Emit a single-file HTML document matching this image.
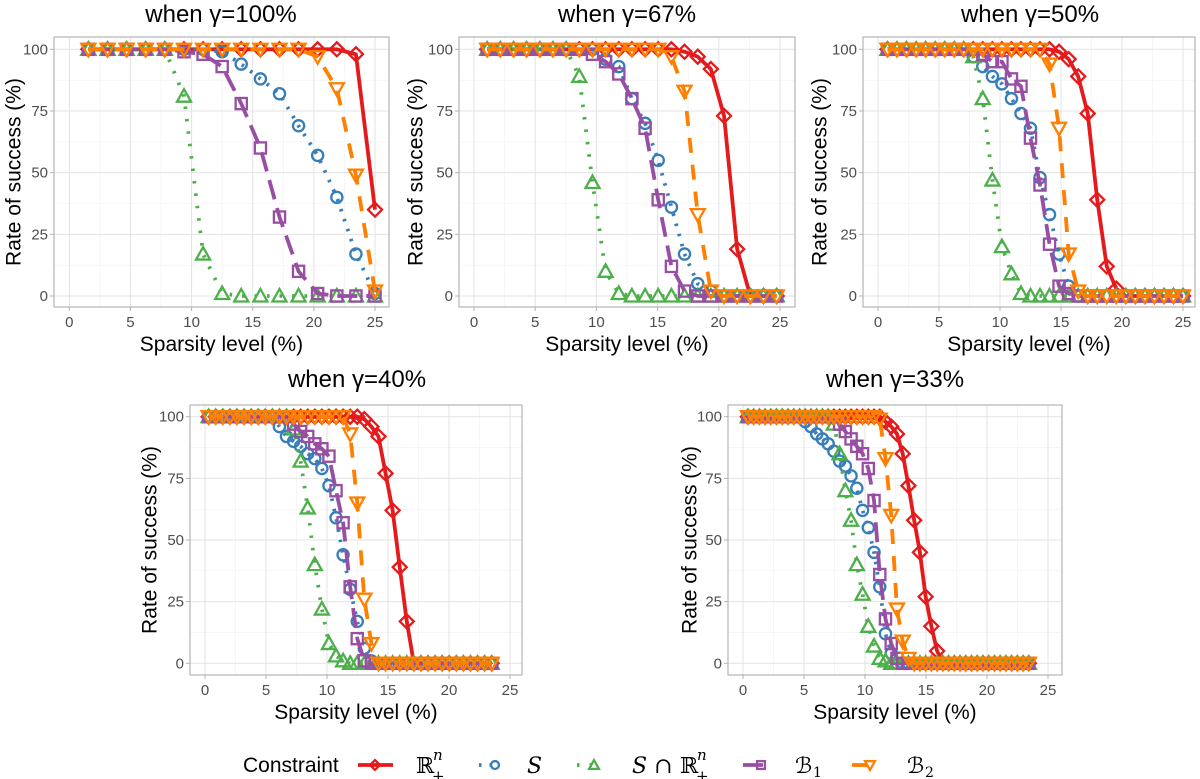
<!DOCTYPE html>
<html><head><meta charset="utf-8"><style>
html,body{margin:0;padding:0;background:#fff;}
svg{display:block;font-family:"Liberation Sans",sans-serif;}
</style></head><body>
<svg id="chart" width="1200" height="779" viewBox="0 0 1200 779" xmlns="http://www.w3.org/2000/svg">
<g id="panels"></g>
<g id="legend">
  <text x="243" y="772" font-size="21" fill="#000">Constraint</text>
</g>
</svg>
<script>
// ---- data ----
const titles = ["when γ=100%","when γ=67%","when γ=50%","when γ=40%","when γ=33%"];
const xTicks = [0,5,10,15,20,25];
const yTicks = [0,25,50,75,100];
const seriesNames = ["R+n","S","S∩R+n","B1","B2"];

const x1 = [1.56,3.13,4.69,6.25,7.81,9.38,10.94,12.5,14.06,15.63,17.19,18.75,20.31,21.88,23.44,25];
const p1Red    = [100,100,100,100,100,100,100,100,100,100,100,100,100,100,98,35];
const p1Blue   = [100,100,100,100,100,100,100,99,94,88,82,69,57,40,17,1];
const p1Green  = [100,100,100,100,100,81,17,1,0,0,0,0,0,0,0,0];
const p1Purple = [100,100,100,100,100,99,98,93,78,60,32,10,1,0,0,0];
const p1Orange = [100,100,100,100,100,100,100,100,100,100,100,100,97,84,49,2];

const x2 = [1.08,2.15,3.23,4.3,5.38,6.45,7.53,8.6,9.68,10.75,11.83,12.9,13.98,15.05,16.13,17.2,18.28,19.35,20.43,21.5,22.58,23.65,24.73];
const p2Red    = [100,100,100,100,100,100,100,100,100,100,100,100,100,100,100,99,97,92,73,19,0,0,0];
const p2Blue   = [100,100,100,100,100,100,100,100,100,96,93,80,70,55,36,17,5,2,0,0,0,0,0];
const p2Green  = [100,100,100,100,100,100,100,89,46,10,1,0,0,0,0,0,0,0,0,0,0,0,0];
const p2Purple = [100,100,100,100,100,100,100,100,98,95,90,80,68,39,12,2,0,0,0,0,0,0,0];
const p2Orange = [100,100,100,100,100,100,100,100,100,100,100,100,100,100,97,83,33,2,0,0,0,0,0];

const x3 = [0.78,1.56,2.34,3.13,3.91,4.69,5.47,6.25,7.03,7.81,8.59,9.38,10.16,10.94,11.72,12.5,13.28,14.06,14.84,15.63,16.41,17.19,17.97,18.75,19.53,20.31,21.09,21.88,22.66,23.44,24.22,25];
const p3Red    = [100,100,100,100,100,100,100,100,100,100,100,100,100,100,100,100,100,100,99,96,89,74,39,12,3,0,0,0,0,0,0,0];
const p3Blue   = [100,100,100,100,100,100,100,100,100,97,93,89,86,80,74,68,48,33,17,4,0,0,0,0,0,0,0,0,0,0,0,0];
const p3Green  = [100,100,100,100,100,100,100,100,100,97,80,47,20,9,1,0,0,0,0,0,0,0,0,0,0,0,0,0,0,0,0,0];
const p3Purple = [100,100,100,100,100,100,100,100,100,100,98,95,95,88,85,64,45,21,4,1,0,0,0,0,0,0,0,0,0,0,0,0];
const p3Orange = [100,100,100,100,100,100,100,100,100,100,100,100,100,100,100,100,100,94,68,17,2,0,0,0,0,0,0,0,0,0,0,0];

const x4 = [0.3,0.88,1.46,2.04,2.62,3.2,3.78,4.36,4.94,5.52,6.1,6.68,7.26,7.84,8.42,9,9.58,10.16,10.74,11.32,11.9,12.48,13.06,13.64,14.22,14.8,15.38,15.96,16.54,17.12,17.7,18.28,18.86,19.44,20.02,20.6,21.18,21.76,22.34,22.92,23.5];
const p4Red    = [100,100,100,100,100,100,100,100,100,100,100,100,100,100,100,100,100,100,100,100,100,100,99,96,92,77,62,39,17,0,0,0,0,0,0,0,0,0,0,0,0];
const p4Blue   = [100,100,100,100,100,100,100,100,100,100,96,92,90,88,85,83,79,72,59,44,30,17,6,1,0,0,0,0,0,0,0,0,0,0,0,0,0,0,0,0,0];
const p4Green  = [100,100,100,100,100,100,100,100,100,100,100,100,95,82,63,40,22,8,3,1,0,0,0,0,0,0,0,0,0,0,0,0,0,0,0,0,0,0,0,0,0];
const p4Purple = [100,100,100,100,100,100,100,100,100,100,100,100,97,94,92,89,87,84,70,57,31,10,1,0,0,0,0,0,0,0,0,0,0,0,0,0,0,0,0,0,0];
const p4Orange = [100,100,100,100,100,100,100,100,100,100,100,100,100,100,100,100,100,100,100,100,93,65,26,8,0,0,0,0,0,0,0,0,0,0,0,0,0,0,0,0,0];

const x5 = [0.4,0.87,1.34,1.81,2.28,2.75,3.22,3.69,4.16,4.63,5.1,5.57,6.04,6.51,6.98,7.45,7.92,8.39,8.86,9.33,9.8,10.27,10.74,11.21,11.68,12.15,12.62,13.09,13.56,14.03,14.5,14.97,15.44,15.91,16.38,16.85,17.32,17.79,18.26,18.73,19.2,19.67,20.14,20.61,21.08,21.55,22.02,22.49,22.96,23.43];
const p5Red    = [100,100,100,100,100,100,100,100,100,100,100,100,100,100,100,100,100,100,100,100,100,100,100,100,98,96,93,85,72,58,45,27,15,5,0,0,0,0,0,0,0,0,0,0,0,0,0,0,0,0];
const p5Blue   = [100,100,100,100,100,100,100,100,100,100,98,96,93,91,89,86,82,80,76,71,62,55,45,31,12,4,0,0,0,0,0,0,0,0,0,0,0,0,0,0,0,0,0,0,0,0,0,0,0,0];
const p5Green  = [100,100,100,100,100,100,100,100,100,100,100,100,100,100,100,97,85,70,58,40,28,15,7,2,1,0,0,0,0,0,0,0,0,0,0,0,0,0,0,0,0,0,0,0,0,0,0,0,0,0];
const p5Purple = [100,100,100,100,100,100,100,100,100,100,100,100,100,100,100,100,97,94,91,88,85,79,66,36,18,8,2,0,0,0,0,0,0,0,0,0,0,0,0,0,0,0,0,0,0,0,0,0,0,0];
const p5Orange = [100,100,100,100,100,100,100,100,100,100,100,100,100,100,100,100,100,100,100,100,100,100,100,99,83,60,22,9,2,0,0,0,0,0,0,0,0,0,0,0,0,0,0,0,0,0,0,0,0,0];

// ---- layout ----
const NS = "http://www.w3.org/2000/svg";
const colors = ["#E41A1C","#377EB8","#4DAF4A","#984EA3","#FF7F00"];
const dashes = ["", "2.5 8", "2.5 10", "20 9", "15 12"];
const shapes = ["diamond","circle","triangle","square","triangle-down"];
const panels = [
  {fx0:54, fx1:389, fy0:37, fy1:307, x0:69.3, x25:375, y100:49.3, y0:296, tx:221, ty:22, ytx:14, xs:x1, ys:[p1Red,p1Blue,p1Green,p1Purple,p1Orange]},
  {fx0:459, fx1:795, fy0:37, fy1:307, x0:474, x25:780, y100:49.3, y0:296, tx:627, ty:22, ytx:416, xs:x2, ys:[p2Red,p2Blue,p2Green,p2Purple,p2Orange]},
  {fx0:863, fx1:1195, fy0:37, fy1:307, x0:878, x25:1183, y100:49.3, y0:296, tx:1030, ty:22, ytx:820, xs:x3, ys:[p3Red,p3Blue,p3Green,p3Purple,p3Orange]},
  {fx0:190, fx1:522, fy0:405, fy1:675, x0:205, x25:510, y100:416.7, y0:663.3, tx:357, ty:387, ytx:150, xs:x4, ys:[p4Red,p4Blue,p4Green,p4Purple,p4Orange]},
  {fx0:728, fx1:1062, fy0:405, fy1:675, x0:743, x25:1048, y100:416.7, y0:663.3, tx:895, ty:387, ytx:690, xs:x5, ys:[p5Red,p5Blue,p5Green,p5Purple,p5Orange]}
];

function mk(tag, attrs, parent){
  const e = document.createElementNS(NS, tag);
  for (const k in attrs) e.setAttribute(k, attrs[k]);
  if (parent) parent.appendChild(e);
  return e;
}
function marker(shape, cx, cy, color, parent, s){
  s = s || 1;
  const r = 7*s, q = 5.6*s, h = 5.5*s;
  let e;
  if (shape === "circle") e = mk("circle",{cx:cx,cy:cy,r:q},parent);
  else if (shape === "square") e = mk("rect",{x:cx-q,y:cy-q,width:2*q,height:2*q},parent);
  else if (shape === "diamond") e = mk("polygon",{points:`${cx},${cy-r} ${cx+r},${cy} ${cx},${cy+r} ${cx-r},${cy}`},parent);
  else if (shape === "triangle") e = mk("polygon",{points:`${cx},${cy-r} ${cx+r},${cy+h} ${cx-r},${cy+h}`},parent);
  else e = mk("polygon",{points:`${cx},${cy+r} ${cx+r},${cy-h} ${cx-r},${cy-h}`},parent);
  e.setAttribute("fill","none");
  e.setAttribute("stroke",color);
  e.setAttribute("stroke-width","2.3");
  return e;
}

const root = document.getElementById("panels");
panels.forEach((p, pi) => {
  const g = mk("g",{},root);
  
  
  const sx = v => p.x0 + (p.x25 - p.x0) * v / 25;
  const sy = v => p.y0 + (p.y100 - p.y0) * v / 100;
  [2.5,7.5,12.5,17.5,22.5].forEach(v => { const l = mk("line",{x1:sx(v),x2:sx(v),y1:p.fy0,y2:p.fy1,stroke:"#f0f0f0","stroke-width":0.6},g);   });
  [12.5,37.5,62.5,87.5].forEach(v => { const l = mk("line",{x1:p.fx0,x2:p.fx1,y1:sy(v),y2:sy(v),stroke:"#f0f0f0","stroke-width":0.6},g);   });
  xTicks.forEach(v => { const l = mk("line",{x1:sx(v),x2:sx(v),y1:p.fy0,y2:p.fy1,stroke:"#e3e3e3","stroke-width":1},g);   });
  yTicks.forEach(v => { const l = mk("line",{x1:p.fx0,x2:p.fx1,y1:sy(v),y2:sy(v),stroke:"#e3e3e3","stroke-width":1},g);   });
  const fr = mk("rect",{x:p.fx0,y:p.fy0,width:p.fx1-p.fx0,height:p.fy1-p.fy0,fill:"none",stroke:"#b3b3b3","stroke-width":1.2},g);
  
  
  xTicks.forEach(v => {
    mk("line",{x1:sx(v),x2:sx(v),y1:p.fy1,y2:p.fy1+4,stroke:"#b3b3b3","stroke-width":1},g);
    const t = mk("text",{x:sx(v),y:p.fy1+20,"text-anchor":"middle","font-size":15,fill:"#4d4d4d"},g);
    t.textContent = v;
    
    
  });
  yTicks.forEach(v => {
    mk("line",{x1:p.fx0-4,x2:p.fx0,y1:sy(v),y2:sy(v),stroke:"#b3b3b3","stroke-width":1},g);
    const t = mk("text",{x:p.fx0-6,y:sy(v)+5,"text-anchor":"end","font-size":15,fill:"#4d4d4d"},g);
    t.textContent = v;
    
    
  });
  const tt = mk("text",{x:p.tx,y:p.ty,"text-anchor":"middle","font-size":24,fill:"#000"},g);
  tt.textContent = titles[pi];
  
  
  const xt = mk("text",{x:(p.fx0+p.fx1)/2,y:p.fy1+44,"text-anchor":"middle","font-size":21,fill:"#000"},g);
  xt.textContent = "Sparsity level (%)";
  
  
  const cy = (p.fy0+p.fy1)/2;
  const yt = mk("text",{x:p.ytx,y:cy,"text-anchor":"middle","font-size":21,fill:"#000","dominant-baseline":"central",transform:`rotate(-90 ${p.ytx} ${cy})`},g);
  yt.textContent = "Rate of success (%)";
  
  
  p.ys.forEach((vals, si) => {
    const sg = mk("g",{},g);
    
    
    const pts = vals.map((v,i) => sx(p.xs[i]) + "," + sy(v)).join(" ");
    const pl = mk("polyline",{points:pts,fill:"none",stroke:colors[si],"stroke-width":3.8,"stroke-linejoin":"round"},sg);
    if (dashes[si]) pl.setAttribute("stroke-dasharray", dashes[si]);
    
    
    vals.forEach((v,i) => {
      const m = marker(shapes[si], sx(p.xs[i]), sy(v), colors[si], sg);
      
      
    });
  });
});

// legend
const lg = document.getElementById("legend");
const keys = [
  {x0:358, x1:393, mx:375},
  {x0:479, x1:500, mx:495},
  {x0:577, x1:600, mx:594},
  {x0:743, x1:767, mx:761},
  {x0:852, x1:877, mx:870}
];
keys.forEach((k, si) => {
  const kg = mk("g",{},lg);
  
  
  const l = mk("line",{x1:k.x0,x2:k.x1,y1:765,y2:765,stroke:colors[si],"stroke-width":3.8},kg);
  if (dashes[si]) l.setAttribute("stroke-dasharray", dashes[si]);
  marker(shapes[si], k.mx, 765, colors[si], kg, 0.7);
});
function addText(x, y, size, txt, style, parent){
  const t = mk("text",{x:x,y:y,"font-size":size,fill:"#000","font-family":"'DejaVu Serif','Liberation Serif',serif"},parent);
  if (style) t.setAttribute("font-style", style);
  t.textContent = txt;
  
  
  return t;
}
function realsPlus(x, parent){
  addText(x, 773, 22, "ℝ", "", parent);
  addText(x+17, 760, 15, "n", "italic", parent);
  addText(x+16, 781, 15, "+", "", parent);
}
realsPlus(416, lg);
addText(527, 773, 22, "S", "italic", lg);
addText(632, 773, 22, "S ∩", "italic", lg);
realsPlus(680, lg);
addText(795, 773, 22, "ℬ", "", lg); addText(813, 777, 14, "1", "", lg);
addText(907, 773, 22, "ℬ", "", lg); addText(925, 777, 14, "2", "", lg);
</script>
</body></html>
